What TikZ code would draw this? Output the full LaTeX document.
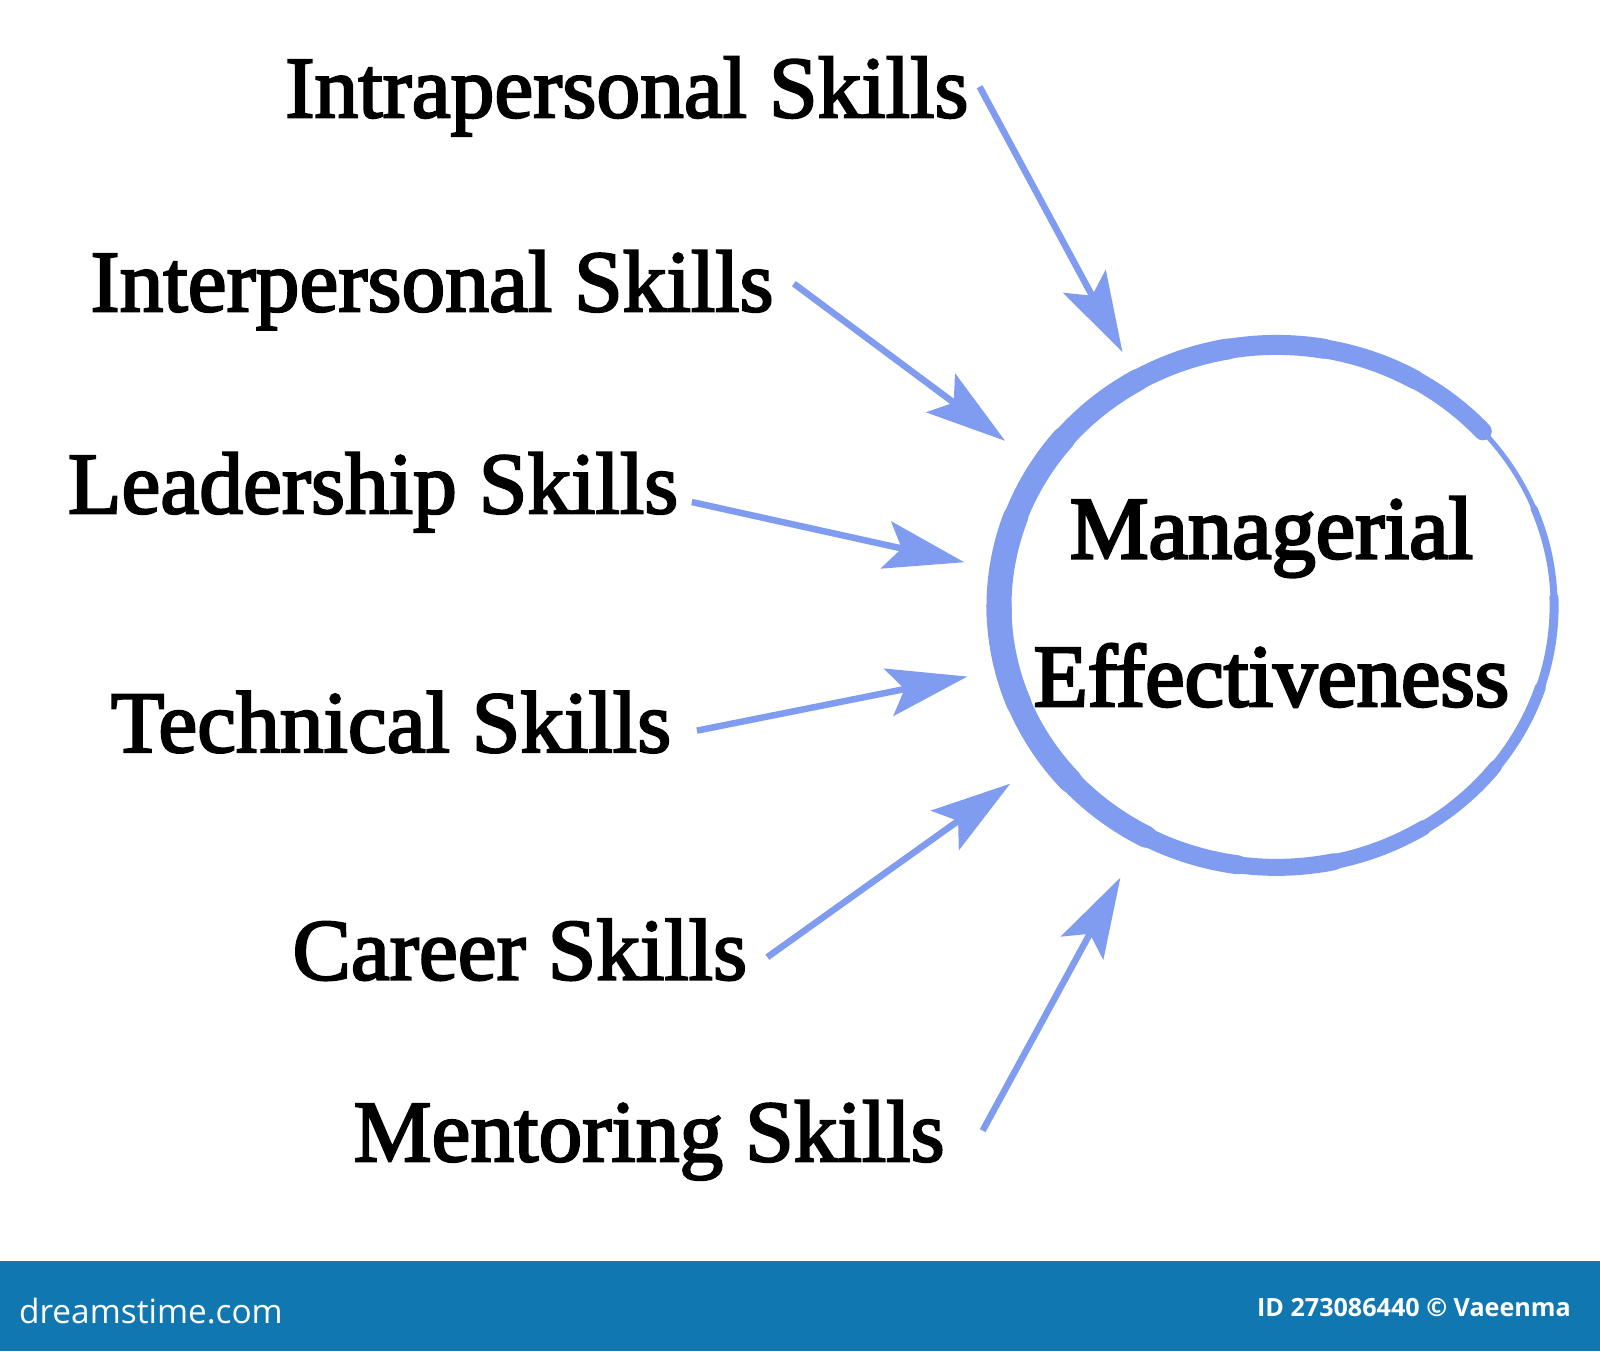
\documentclass[tikz,border=0pt]{standalone}
\usepackage{fontspec}
\setmainfont{Liberation Serif}
\newfontfamily\labfont{Liberation Serif}[FakeBold=2.5]
\newfontfamily\ctrfont{Liberation Serif}[FakeBold=3]
\newfontfamily\barfont{Open Sans}
\usetikzlibrary{arrows.meta}
\definecolor{arrowblue}{RGB}{128,156,240}
\definecolor{barblue}{RGB}{16,119,176}
\begin{document}
\begin{tikzpicture}[x=0.10204mm,y=-0.10204mm,
  lab/.style={font=\labfont\fontsize{24.9}{30}\selectfont, anchor=base west, inner sep=0pt},
  ctr/.style={font=\ctrfont\fontsize{25.2}{30}\selectfont, anchor=base, inner sep=0pt},
  arr/.style={draw=arrowblue, line width=0.65mm,
    -{Stealth[length=8mm,width=4.8mm,inset=1.6mm]}},
  ring/.style={draw=arrowblue, line cap=round}]
\useasboundingbox (0,0) rectangle (1568,1324);
\fill[white] (0,0) rectangle (1568,1324);

% labels
\node[lab] (l1) at (279,115) {Intrapersonal Skills};
\node[lab] (l2) at (88,305) {Interpersonal Skills};
\node[lab] (l3) at (66,503) {Leadership Skills};
\node[lab] (l4) at (108,737) {Technical Skills};
\node[lab] (l5) at (286,960) {Career Skills};
\node[lab] (l6) at (346,1138) {Mentoring Skills};

% centre text
\node[ctr] (m1) at (1246,547) {Managerial};
\node[ctr] (m2) at (1246,692) {Effectiveness};
\coordinate (c) at (1251,594);

% ring (tapered, drawn in short pieces)
\foreach \a/\b/\w in {-42/-62/1.8, -60/-82/1.9, -80/-102/2.0, -100/-122/2.1,
  -120/-142/2.2, -140/-162/2.35, -160/-182/2.5, -180/-202/2.5, -200/-222/2.4,
  -220/-242/2.2, -240/-262/1.9, -260/-282/1.7, -280/-302/1.5, -300/-322/1.3,
  -320/-342/1.1, -340/-362/0.9, -360/-382/0.7, -380/-403/0.5}
  \draw[ring, line width=\w mm] (c) ++(\a:272 and 256)
    arc[start angle=\a, end angle=\b, x radius=272, y radius=256];

% arrow end points
\coordinate (s1) at (960,85);   \coordinate (t1) at (1100,345);
\coordinate (s2) at (778,278);  \coordinate (t2) at (985,432);
\coordinate (s3) at (678,492);  \coordinate (t3) at (945,551);
\coordinate (s4) at (683,716);  \coordinate (t4) at (948,663);
\coordinate (s5) at (752,938);  \coordinate (t5) at (990,768);
\coordinate (s6) at (963,1108); \coordinate (t6) at (1098,860);
\foreach \i in {1,...,6} \draw[arr] (s\i) -- (t\i);

% bottom bar
\fill[barblue] (0,1236) rectangle (1568,1324);
\node[font=\barfont\fontsize{9.5}{11}\selectfont, text=white, anchor=base west, inner sep=0pt]
  (brand) at (18,1297) {dreamstime.com};
\node[font=\barfont\bfseries\fontsize{7.15}{9}\selectfont, text=white, anchor=base east, inner sep=0pt]
  (cred) at (1540,1290) {ID 273086440 \textcopyright\ Vaeenma};
\end{tikzpicture}
\end{document}
